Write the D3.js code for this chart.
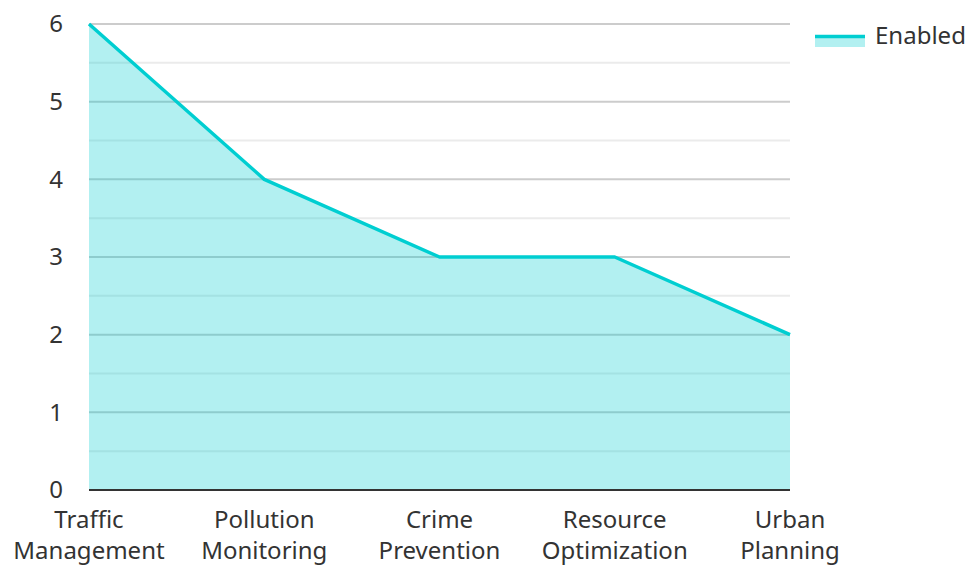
<!DOCTYPE html>
<html>
<head>
<meta charset="utf-8">
<script src="https://cdn.jsdelivr.net/npm/d3@7"></script>
<style>
  body { margin: 0; background: #fff; }
  text { font-family: "Noto Sans", "Open Sans", sans-serif; fill: #333; }
</style>
</head>
<body>
<div id="chart"></div>
<script>
// data
let categories = [["Traffic", "Management"], ["Pollution", "Monitoring"], ["Crime", "Prevention"], ["Resource", "Optimization"], ["Urban", "Planning"]],
    values = [6, 4, 3, 3, 2],
    yTicks = [0, 1, 2, 3, 4, 5, 6],
    seriesName = "Enabled";

let width = 971, height = 566,
    margin = ({top: 24, right: 181, bottom: 76, left: 89}),
    lineColor = "#00ced1",
    fontSize = 24;

let keys = categories.map(c => c.join(" "));
let x = d3.scalePoint()
    .domain(keys)
    .range([margin.left, width - margin.right]);
let y = d3.scaleLinear()
    .domain([0, 6])
    .range([height - margin.bottom, margin.top]);

const svg = d3.select("#chart").append("svg")
    .attr("width", width)
    .attr("height", height);

// grid (half-unit minor lines lighter)
let grid = svg.append("g");
d3.range(0.5, 6.01, 0.5).forEach(v => {
  grid.append("line")
      .attr("x1", margin.left).attr("x2", width - margin.right)
      .attr("y1", y(v)).attr("y2", y(v))
      .attr("stroke", v % 1 === 0 ? "#cccccc" : "#ebebeb")
      .attr("stroke-width", 2);
});

let pts = keys.map((k, i) => ({k, v: values[i]}));

svg.append("path")
    .datum(pts)
    .attr("fill", lineColor)
    .attr("fill-opacity", 0.3)
    .attr("d", d3.area().x(d => x(d.k)).y0(y(0)).y1(d => y(d.v)));

svg.append("path")
    .datum(pts)
    .attr("fill", "none")
    .attr("stroke", lineColor)
    .attr("stroke-width", 3.5)
    .attr("stroke-linejoin", "round")
    .attr("d", d3.line().x(d => x(d.k)).y(d => y(d.v)));

// baseline
svg.append("line")
    .attr("x1", margin.left).attr("x2", width - margin.right)
    .attr("y1", y(0)).attr("y2", y(0))
    .attr("stroke", "#333").attr("stroke-width", 2);

// y ticks
svg.append("g").selectAll("text")
    .data(yTicks)
    .join("text")
      .attr("x", 63)
      .attr("y", d => y(d))
      .attr("dy", "0.35em")
      .attr("text-anchor", "end")
      .attr("font-size", fontSize)
      .text(d => d);

// x labels
let xl = svg.append("g").selectAll("text")
    .data(categories)
    .join("text")
      .attr("x", (d, i) => x(keys[i]))
      .attr("y", 528)
      .attr("text-anchor", "middle")
      .attr("font-size", fontSize);
xl.selectAll("tspan")
    .data(d => d)
    .join("tspan")
      .attr("x", function() { return this.parentNode.getAttribute("x"); })
      .attr("dy", (d, i) => i ? 31 : 0)
      .text(d => d);

// legend
let lg = svg.append("g").attr("transform", "translate(815,35)");
lg.append("rect").attr("x", 0).attr("y", 0).attr("width", 50).attr("height", 12)
    .attr("fill", lineColor).attr("fill-opacity", 0.3);
lg.append("line").attr("x1", 0).attr("x2", 50).attr("y1", 1.5).attr("y2", 1.5)
    .attr("stroke", lineColor).attr("stroke-width", 3.5);
lg.append("text").attr("x", 60).attr("y", 1).attr("dy", "0.35em")
    .attr("font-size", fontSize).text(seriesName);
</script>
</body>
</html>
